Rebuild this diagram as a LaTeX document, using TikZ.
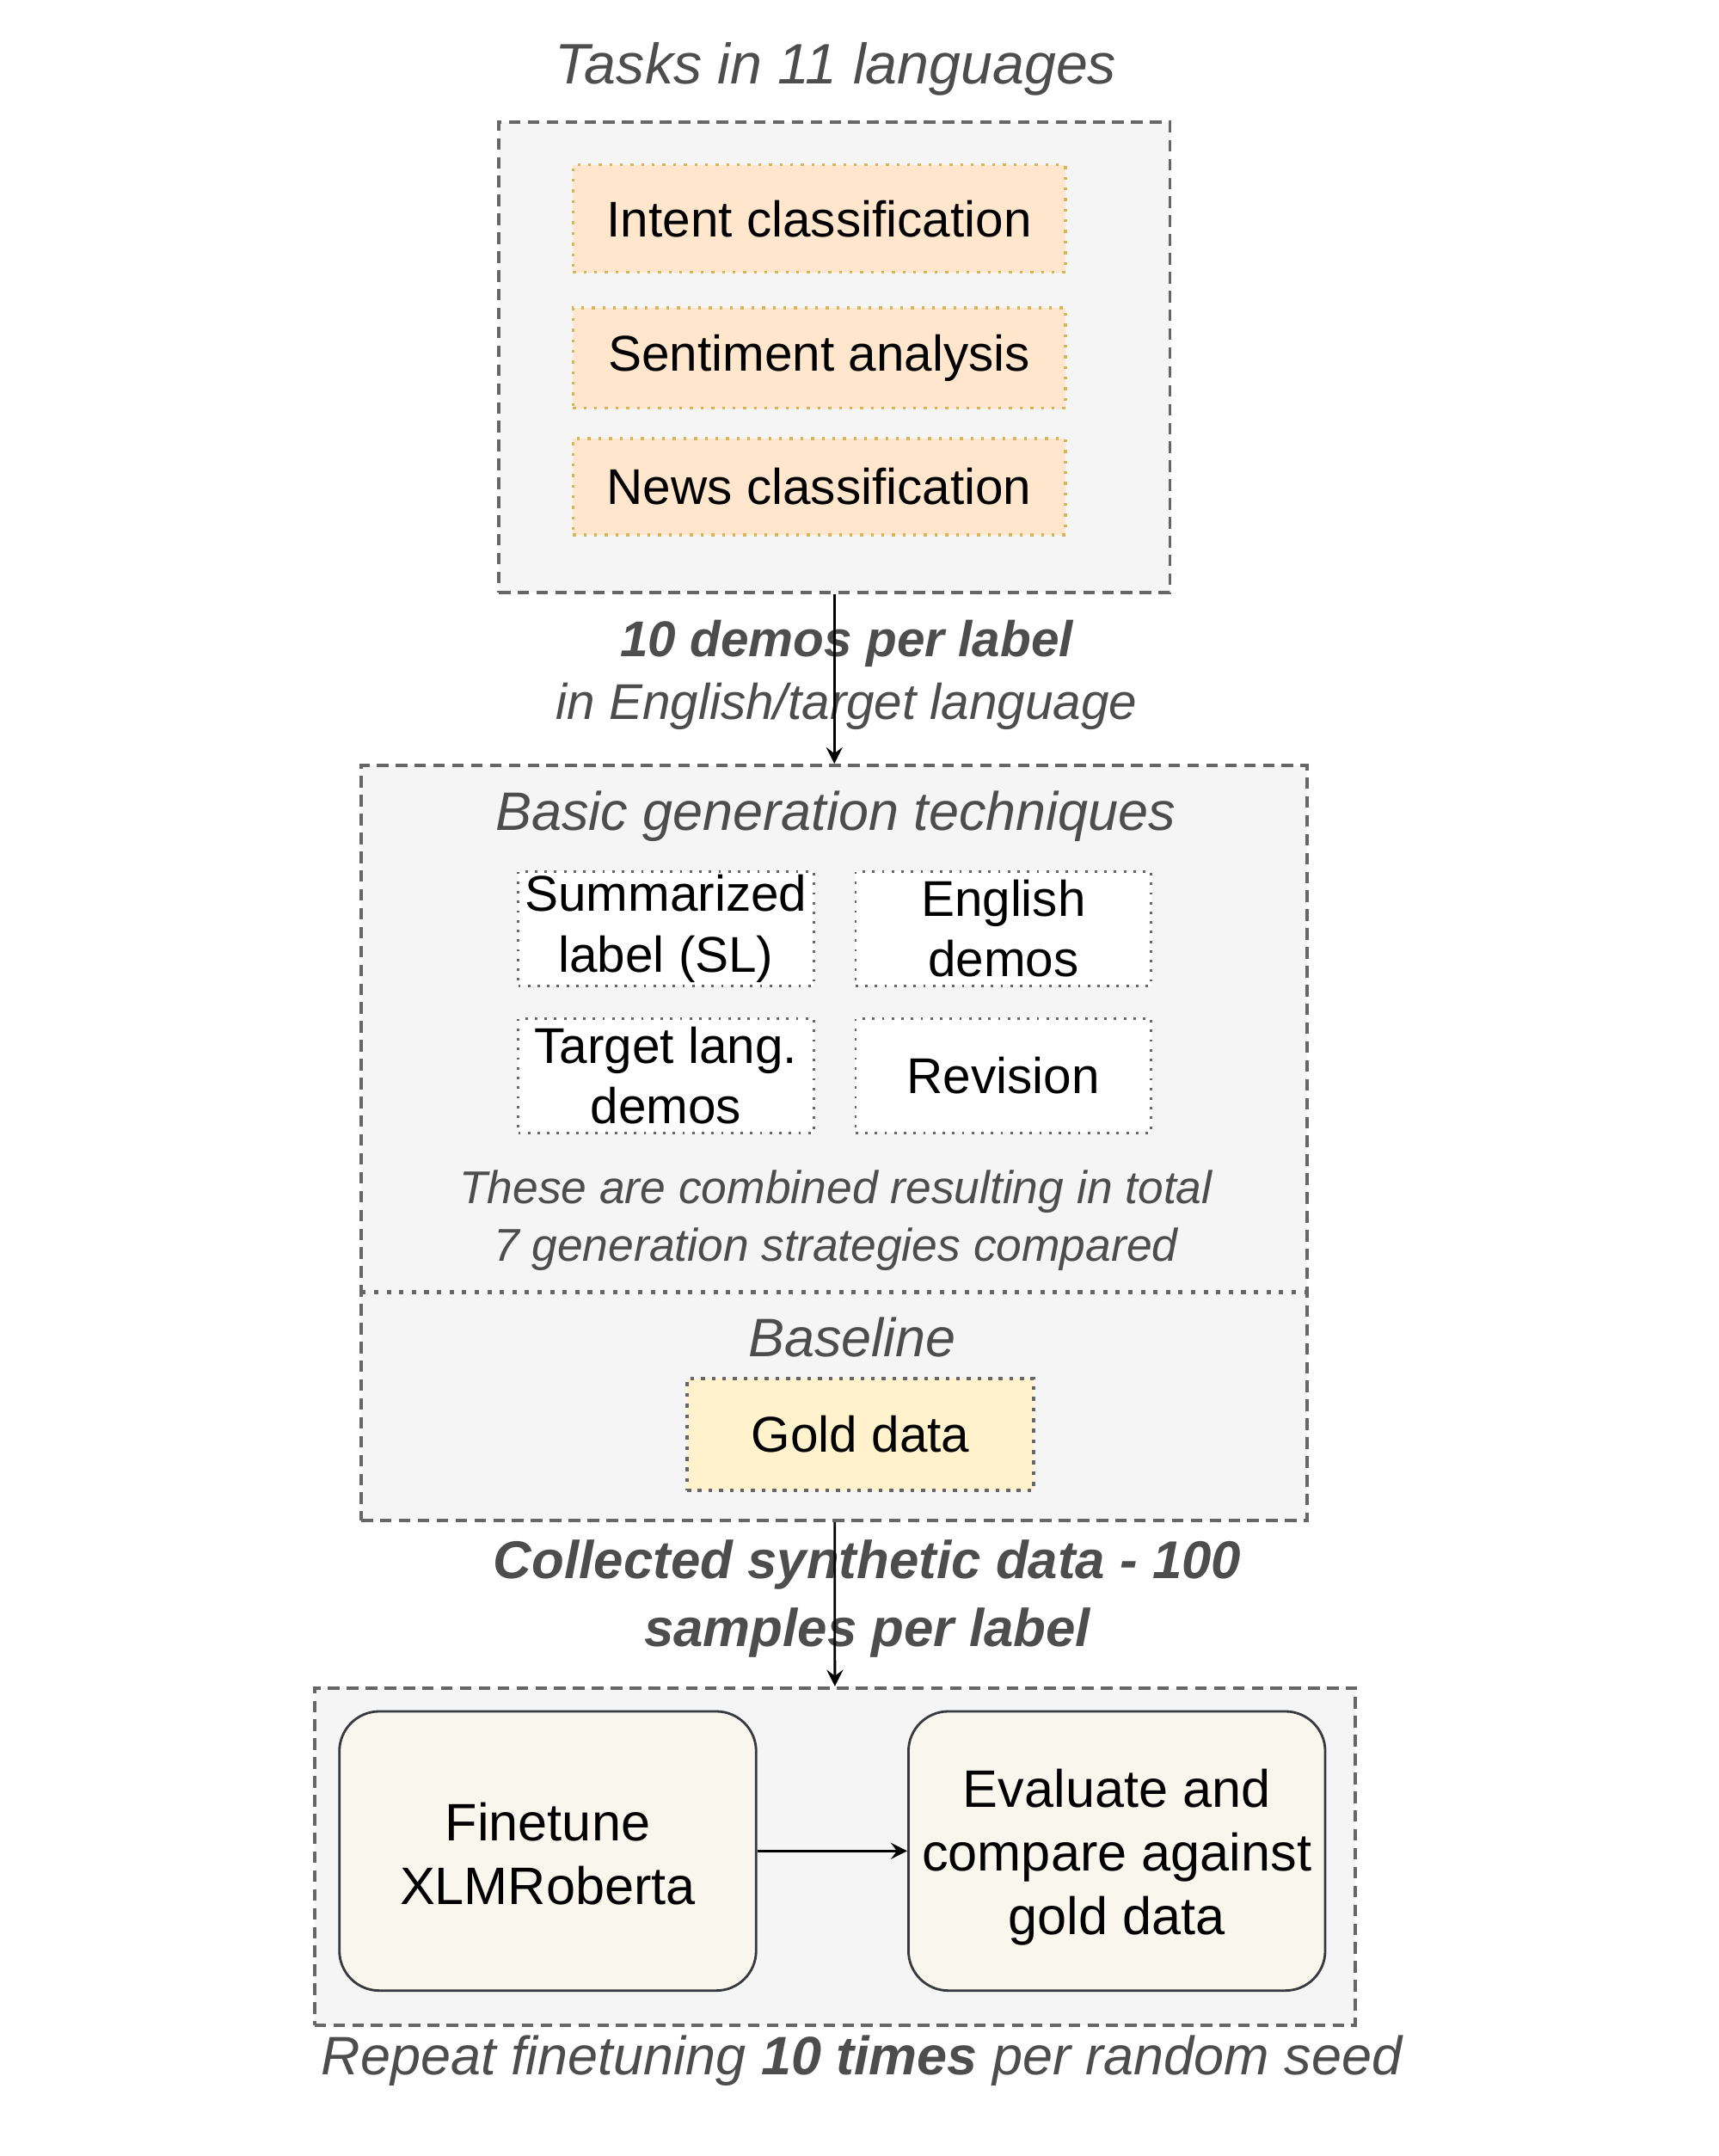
\documentclass[tikz,border=0pt]{standalone}
\usepackage{fontspec}
\setmainfont{Liberation Sans}
\usetikzlibrary{arrows,shapes}
\definecolor{labelgray}{HTML}{4D4D4D}
\definecolor{boxgray}{HTML}{F5F5F5}
\definecolor{edgegray}{HTML}{666666}
\definecolor{peach}{HTML}{FFE6CC}
\definecolor{peachedge}{HTML}{D6B656}
\definecolor{goldfill}{HTML}{FFF2CC}
\definecolor{cream}{HTML}{F9F7ED}
\definecolor{darkedge}{HTML}{36393D}
\begin{document}
\begin{tikzpicture}[x=0.01cm,y=-0.01cm,>=stealth,
    group/.style={draw=edgegray,fill=boxgray,line width=0.7pt,dash pattern=on 2.4pt off 1.5pt},
    task/.style={draw=peachedge,fill=peach,line width=0.6pt,dash pattern=on 0.6pt off 1.6pt,minimum width=3.58cm,font=\fontsize{10.4}{12.5}\selectfont},
    tech/.style={draw=edgegray,fill=white,line width=0.5pt,dash pattern=on 0.5pt off 1.5pt,minimum width=2.15cm,minimum height=0.83cm,inner sep=0pt,align=center,font=\fontsize{10.4}{12.5}\selectfont},
    stage/.style={draw=darkedge,fill=cream,line width=0.5pt,rounded corners=0.29cm,minimum width=3.03cm,minimum height=2.03cm,inner sep=0pt,align=center,font=\fontsize{10.9}{13.1}\selectfont},
    lbl/.style={text=labelgray,inner sep=0pt,align=center,font=\fontsize{11.2}{13}\selectfont\itshape}]
    \useasboundingbox (0,0) rectangle (1250,1568.4);
    \node[lbl,font=\fontsize{11.8}{14}\selectfont\itshape] (title) at (608,50) {Tasks in 11 languages};
    \node[group,minimum width=4.88cm,minimum height=3.42cm] (tasks) at (607,260) {};
    \node[task,minimum height=0.78cm] (intent) at (596,159) {Intent classification};
    \node[task,minimum height=0.73cm] (senti) at (596,260.5) {Sentiment analysis};
    \node[task,minimum height=0.70cm] (news) at (596,354) {News classification};
    \node[lbl,font=\fontsize{10.4}{13.1}\selectfont\itshape] (demos) at (616,491) {\textbf{10 demos per label}\\in English/target language};
    \node[group,minimum width=6.88cm,minimum height=5.49cm] (gen) at (607,831.5) {};
    \node[lbl] (basic) at (608,594) {Basic generation techniques};
    \node[tech] (sl) at (484.5,675.5) {Summarized\\label (SL)};
    \node[tech] (eng) at (730,675.5) {English\\demos};
    \node[tech] (tgt) at (484.5,782.5) {Target lang.\\demos};
    \node[tech] (rev) at (730,782.5) {Revision};
    \node[lbl,font=\fontsize{9.5}{12}\selectfont\itshape] (comb) at (608,888) {These are combined resulting in total\\7 generation strategies compared};
    \draw[edgegray,line width=0.9pt,dash pattern=on 0.9pt off 1.7pt] (263,940) -- (951,940);
    \node[lbl] (base) at (620,973) {Baseline};
    \node[tech,fill=goldfill,line width=0.8pt,dash pattern=on 0.8pt off 1.4pt,minimum width=2.52cm,minimum height=0.81cm] (gold) at (626,1043.5) {Gold data};
    \node[lbl,font=\fontsize{11}{13.9}\selectfont\itshape\bfseries] (collect) at (631,1163) {Collected synthetic data - 100\\samples per label};
    \node[group,minimum width=7.57cm,minimum height=2.45cm] (train) at (607.5,1350.5) {};
    \node[stage] (ft) at (398.5,1346.5) {\rule{0pt}{9pt}Finetune\\XLMRoberta};
    \node[stage] (eval) at (812.5,1346.5) {\rule{0pt}{10.5pt}Evaluate and\\compare against\\gold data};
    \node[lbl] (repeat) at (627,1499) {Repeat finetuning \textbf{10 times} per random seed};
    \path[->,line width=0.5pt]
    (tasks) edge (gen)
    (gen) edge (train)
    (ft) edge (eval);
\end{tikzpicture}
\end{document}
